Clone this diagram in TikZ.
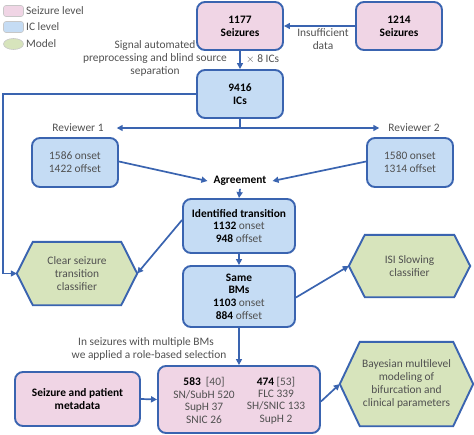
\documentclass[tikz,border=0pt]{standalone}
\usepackage{fontspec}
\setmainfont{Carlito}
\usetikzlibrary{arrows.meta,backgrounds,calc,shapes.geometric}
\definecolor{pinkf}{RGB}{240,213,229}
\definecolor{bluef}{RGB}{197,220,244}
\definecolor{greenf}{RGB}{215,228,188}
\definecolor{edgec}{RGB}{58,100,176}
\definecolor{txt}{RGB}{80,80,80}
\newcommand{\bnum}[1]{\textcolor{black}{\textbf{#1}}}
\begin{document}
\begin{tikzpicture}[x=1pt,y=-1pt,
  font=\fontsize{11.4}{13}\selectfont,
  box/.style={draw=edgec, line width=1.9pt, rounded corners=8pt, align=center, inner sep=0pt, text=txt},
  pinkbox/.style={box, fill=pinkf},
  bluebox/.style={box, fill=bluef},
  hexn/.style={align=center, inner sep=0pt, text=txt},
  hexpath/.style={draw=edgec, line width=1.9pt, fill=greenf, line join=miter},
  arr/.style={draw=edgec, line width=1.7pt, -{Triangle[length=6pt,width=6pt]}},
  plain/.style={draw=edgec, line width=1.7pt},
  lbl/.style={text=txt, align=center, inner sep=0pt},
  legbox/.style={draw=black!22, line width=0.6pt, minimum width=20pt, minimum height=11pt, inner sep=0pt}]
\useasboundingbox (0,0) rectangle (474,434);

% legend
\node[legbox, fill=pinkf, rounded corners=2.5pt] (lg1) at (13.5,11) {};
\node[lbl, anchor=west] (lt1) at (26,11) {Seizure level};
\node[legbox, fill=bluef, rounded corners=2.5pt] (lg2) at (13.5,27) {};
\node[lbl, anchor=west] (lt2) at (26,27) {IC level};
\node[legbox, fill=greenf, ellipse] (lg3) at (13.5,44) {};
\node[lbl, anchor=west] (lt3) at (26,44) {Model};

% boxes
\node[pinkbox, minimum width=86pt, minimum height=48pt] (s1177) at (240,26) {\bnum{1177}\\\bnum{Seizures}};
\node[pinkbox, minimum width=86pt, minimum height=48pt] (s1214) at (399,26) {\bnum{1214}\\\bnum{Seizures}};
\node[bluebox, minimum width=86pt, minimum height=48pt] (ic) at (240,94) {\bnum{9416}\\\bnum{ICs}};
\node[bluebox, minimum width=86pt, minimum height=49pt] (r1) at (75,162.5) {1586 onset\\1422 offset};
\node[bluebox, minimum width=86pt, minimum height=49pt] (r2) at (410,162.5) {1580 onset\\1314 offset};
\node[lbl, inner xsep=6pt, inner ysep=3pt] (agree) at (240,181) {\bnum{Agreement}};
\node[bluebox, minimum width=112pt, minimum height=54pt, font=\fontsize{11.4}{12.5}\selectfont] (idt) at (239,226) {\bnum{Identified transition}\\\bnum{1132} onset\\\bnum{948} offset};
\node[bluebox, minimum width=112pt, minimum height=61pt, font=\fontsize{11.4}{12.7}\selectfont] (bms) at (239,296.5) {\bnum{Same}\\\bnum{BMs}\\\bnum{1103} onset\\\bnum{884} offset};
\node[pinkbox, minimum width=162pt, minimum height=67pt] (bot) at (239,399.5) {};
\node[lbl, font=\fontsize{11.4}{12.4}\selectfont] (colL) at (204,400.5) {\bnum{583}\ \ [40]\\SN/SubH 520\\SupH 37\\SNIC 26};
\node[lbl, font=\fontsize{11.4}{12.4}\selectfont] (colR) at (276,400.5) {\bnum{474} [53]\\FLC 339\\SH/SNIC 133\\SupH 2};
\node[pinkbox, minimum width=125pt, minimum height=54pt] (meta) at (77.5,399) {\bnum{Seizure and patient}\\\bnum{metadata}};

% hexagons
\node[hexn, minimum width=120pt, minimum height=63pt] (hc) at (77,273.5) {Clear seizure\\transition\\classifier};
\node[hexn, minimum width=121pt, minimum height=62pt] (hi) at (409.5,266) {ISI Slowing\\classifier};
\node[hexn, minimum width=133pt, minimum height=84pt, font=\fontsize{11.4}{12.7}\selectfont] (hb) at (406.5,384) {Bayesian multilevel\\modeling of\\bifurcation and\\clinical parameters};
\begin{scope}[on background layer]
\draw[hexpath] (hc.west) -- ([xshift=16pt]hc.north west) -- ([xshift=-16pt]hc.north east) -- (hc.east) -- ([xshift=-16pt]hc.south east) -- ([xshift=16pt]hc.south west) -- cycle;
\draw[hexpath] (hi.west) -- ([xshift=16pt]hi.north west) -- ([xshift=-16pt]hi.north east) -- (hi.east) -- ([xshift=-16pt]hi.south east) -- ([xshift=16pt]hi.south west) -- cycle;
\draw[hexpath] (hb.west) -- ([xshift=20pt]hb.north west) -- ([xshift=-20pt]hb.north east) -- (hb.east) -- ([xshift=-20pt]hb.south east) -- ([xshift=20pt]hb.south west) -- cycle;
\end{scope}

% labels
\node[lbl] (sig) at (155,58) {Signal automated\\preprocessing and blind source\\separation};
\node[lbl] (insuf) at (323,39.5) {Insufficient\\data};
\node[lbl, anchor=west] (x8) at (246,59) {$\times$ 8 ICs};
\node[lbl, inner xsep=13pt] (rv1) at (78,128) {Reviewer 1};
\node[lbl, inner xsep=9pt] (rv2) at (414,128) {Reviewer 2};
\node[lbl, font=\fontsize{11.4}{12.5}\selectfont] (multi) at (146,349) {In seizures with multiple BMs\\\hspace*{6pt}we applied a role-based selection};

% connectors
\draw[arr] (s1214.west) -- (s1177.east);
\draw[arr] (s1177.south) -- (ic.north);
\coordinate (lft) at (3,94);
\draw[arr] (ic.west) -- (lft) |- (hc.west);
\coordinate (split) at (240,128);
\draw[plain] (ic.south) -- (split);
\draw[arr] (split) -- (rv1.east);
\draw[arr] (split) -- (rv2.west);
\draw[arr] ([yshift=1pt]r1.east) -- (agree.west);
\draw[arr] ([yshift=1pt]r2.west) -- (agree.east);
\draw[arr] (agree.south) -- (idt.north);
\draw[arr] (idt.south) -- (bms.north);
\draw[arr] ([yshift=6pt]idt.west) -- (hc.east);
\draw[arr] ([yshift=-1pt]bms.east) -- (hi.west);
\draw[arr] (bms.south) -- (bot.north);
\draw[arr] (meta.east) -- (bot.west);
\draw[arr] ([yshift=-2pt]bot.east) -- (hb.west);
\end{tikzpicture}
\end{document}
